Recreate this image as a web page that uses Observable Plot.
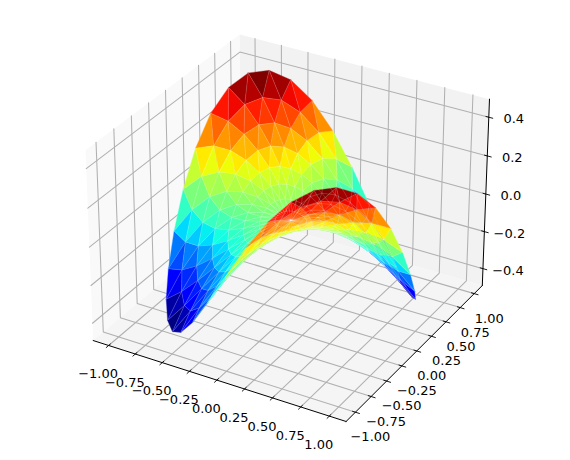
<!DOCTYPE html>
<html><head><meta charset="utf-8">
<script src="https://cdn.jsdelivr.net/npm/d3@7"></script>
<script src="https://cdn.jsdelivr.net/npm/@observablehq/plot@0.6"></script>
<style>html,body{margin:0;padding:0;background:#fff}svg{display:block}</style>
</head><body><div id="chart"></div>
<script>
const ringRadii = [0.125,0.25,0.375,0.5,0.625,0.75,0.875,1];
const anglesA = [0,10,20,30,40,50,60,70,80,90,100,110,120,130,140,150,160,170,180,190,200,210,220,230,240,250,260,270,280,290,300,310,320,330,340,350];
const anglesB = [5,15,25,35,45,55,65,75,85,95,105,115,125,135,145,155,165,175,185,195,205,215,225,235,245,255,265,275,285,295,305,315,325,335,345,355];
const centerZ = 0;
const ring1 = [-.0014,-.0039,-.006,-.0073,-.0078,-.0073,-.006,-.0039,-.0014,.0014,.0039,.006,.0073,.0078,.0073,.006,.0039,.0014,-.0014,-.0039,-.006,-.0073,-.0078,-.0073,-.006,-.0039,-.0014,.0014,.0039,.006,.0073,.0078,.0073,.006,.0039,.0014];
const ring2 = [0,-.0107,-.0201,-.0271,-.0308,-.0308,-.0271,-.0201,-.0107,0,.0107,.0201,.0271,.0308,.0308,.0271,.0201,.0107,0,-.0107,-.0201,-.0271,-.0308,-.0308,-.0271,-.0201,-.0107,0,.0107,.0201,.0271,.0308,.0308,.0271,.0201,.0107];
const ring3 = [-.0122,-.0352,-.0538,-.0661,-.0703,-.0661,-.0538,-.0352,-.0122,.0122,.0352,.0538,.0661,.0703,.0661,.0538,.0352,.0122,-.0122,-.0352,-.0538,-.0661,-.0703,-.0661,-.0538,-.0352,-.0122,.0122,.0352,.0538,.0661,.0703,.0661,.0538,.0352,.0122];
const ring4 = [0,-.0427,-.0803,-.108,-.1228,-.1228,-.108,-.0803,-.0427,0,.0427,.0803,.108,.1228,.1228,.108,.0803,.0427,0,-.0427,-.0803,-.108,-.1228,-.1228,-.108,-.0803,-.0427,0,.0427,.0803,.108,.1228,.1228,.108,.0803,.0427];
const ring5 = [-.034,-.0976,-.149,-.1826,-.1941,-.1826,-.149,-.0976,-.034,.034,.0976,.149,.1826,.1941,.1826,.149,.0976,.034,-.034,-.0976,-.149,-.1826,-.1941,-.1826,-.149,-.0976,-.034,.034,.0976,.149,.1826,.1941,.1826,.149,.0976,.034];
const ring6 = [0,-.096,-.1798,-.2412,-.2735,-.2735,-.2412,-.1798,-.096,0,.096,.1798,.2412,.2735,.2735,.2412,.1798,.096,0,-.096,-.1798,-.2412,-.2735,-.2735,-.2412,-.1798,-.096,0,.096,.1798,.2412,.2735,.2735,.2412,.1798,.096];
const ring7 = [-.0665,-.1902,-.289,-.3521,-.3735,-.3521,-.289,-.1902,-.0665,.0665,.1902,.289,.3521,.3735,.3521,.289,.1902,.0665,-.0665,-.1902,-.289,-.3521,-.3735,-.3521,-.289,-.1902,-.0665,.0665,.1902,.289,.3521,.3735,.3521,.289,.1902,.0665];
const ring8 = [0,-.1702,-.3159,-.4196,-.4727,-.4727,-.4196,-.3159,-.1702,0,.1702,.3159,.4196,.4727,.4727,.4196,.3159,.1702,0,-.1702,-.3159,-.4196,-.4727,-.4727,-.4196,-.3159,-.1702,0,.1702,.3159,.4196,.4727,.4727,.4196,.3159,.1702];
const rings = [ring1,ring2,ring3,ring4,ring5,ring6,ring7,ring8];

const xyTicks = [-1,-.75,-.5,-.25,0,.25,.5,.75,1];
const xyLabels = ["\u22121.00","\u22120.75","\u22120.50","\u22120.25","0.00","0.25","0.50","0.75","1.00"];
const zTicks = [-.4,-.2,0,.2,.4];
const zLabels = ["\u22120.4","\u22120.2","0.0","0.2","0.4"];

const jetStops = [0,.11,.125,.34,.35,.375,.64,.65,.66,.89,.91,1];
const jetColors = ["#000080","#0000ff","#0000ff","#00dbff","#00e6f7","#15ffe2","#eeff08","#f7f600","#ffec00","#ff1300","#e80000","#800000"];

const L = 1.146, ZL = 0.4924, box = [1,1,0.75], elev = 30, azim = -60, dist = 10;
const rad = Math.PI/180;
const c = box.map(b=>b/2);
const dirv = [Math.cos(elev*rad)*Math.cos(azim*rad),Math.cos(elev*rad)*Math.sin(azim*rad),Math.sin(elev*rad)];
const eye = c.map((v,i)=>v+dist*dirv[i]);
const cross=(a,b)=>[a[1]*b[2]-a[2]*b[1],a[2]*b[0]-a[0]*b[2],a[0]*b[1]-a[1]*b[0]];
const dot=(a,b)=>a[0]*b[0]+a[1]*b[1]+a[2]*b[2];
const u0=cross([0,0,1],dirv), un=Math.hypot(...u0), u=u0.map(v=>v/un), v=cross(dirv,u);
function proj(x,y,z){
  const p=[(x+L)/(2*L)*box[0]-eye[0],(y+L)/(2*L)*box[1]-eye[1],(z+ZL)/(2*ZL)*box[2]-eye[2]];
  const w=-dot(dirv,p);
  return {X:dot(u,p)/w*dist,Y:dot(v,p)/w*dist,d:w};
}

const pts=[{x:0,y:0,z:centerZ}];
rings.forEach((ring,i)=>{
  const ang = i%2===1?anglesA:anglesB;
  ring.forEach((z,k)=>pts.push({x:ringRadii[i]*Math.cos(ang[k]*rad),y:ringRadii[i]*Math.sin(ang[k]*rad),z}));
});
const del=d3.Delaunay.from(pts,p=>p.x,p=>p.y);
const tris=[];
for(let i=0;i<del.triangles.length;i+=3){
  const t=[del.triangles[i],del.triangles[i+1],del.triangles[i+2]].map(k=>pts[k]);
  const depth=d3.mean(t,p=>proj(p.x,p.y,p.z).d);
  tris.push({t,depth,val:d3.mean(t,p=>p.z)});
}
tris.sort((a,b)=>b.depth-a.depth);
const zMin=d3.min(tris,d=>d.val), zMax=d3.max(tris,d=>d.val);
const surf=[];
tris.forEach((tr,id)=>[0,1,2,0].forEach(j=>{const p=tr.t[j],q=proj(p.x,p.y,p.z);surf.push({X:q.X,Y:q.Y,id,val:tr.val});}));

const path=(arr,g)=>arr.map(a=>({...proj(...a),g}));
const xwall=path([[-L,-L,-ZL],[-L,L,-ZL],[-L,L,ZL],[-L,-L,ZL],[-L,-L,-ZL]],0);
const ywall=path([[-L,L,-ZL],[L,L,-ZL],[L,L,ZL],[-L,L,ZL],[-L,L,-ZL]],0);
const floor=path([[-L,-L,-ZL],[L,-L,-ZL],[L,L,-ZL],[-L,L,-ZL],[-L,-L,-ZL]],0);

let g=0; const grid=[], axes=[], ticks=[], labX=[], labY=[], labZ=[];
xyTicks.forEach((t,i)=>{
  grid.push(...path([[t,-L,-ZL],[t,L,-ZL],[t,L,ZL]],g++));
  grid.push(...path([[L,t,-ZL],[-L,t,-ZL],[-L,t,ZL]],g++));
  ticks.push(...path([[t,-L-.035,-ZL],[t,-L+.025,-ZL]],g++));
  ticks.push(...path([[L+.035,t,-ZL],[L-.025,t,-ZL]],g++));
  labX.push({...proj(t,-L,-ZL),s:xyLabels[i]});
  labY.push({...proj(L,t,-ZL),s:xyLabels[i]});
});
zTicks.forEach((t,i)=>{
  grid.push(...path([[-L,-L,t],[-L,L,t],[L,L,t]],g++));
  ticks.push(...path([[L+.035,L,t],[L-.025,L,t]],g++));
  labZ.push({...proj(L,L,t),s:zLabels[i]});
});
axes.push(...path([[-L,-L,-ZL],[L,-L,-ZL]],1),...path([[L,-L,-ZL],[L,L,-ZL]],2),...path([[L,L,-ZL],[L,L,ZL]],3));

const cTL=proj(-L,-L,ZL), cTR=proj(L,L,ZL), cF=proj(L,-L,-ZL), cB=proj(-L,L,ZL);
const font={fontFamily:"DejaVu Sans",fontSize:13,fill:"#000",textAnchor:"middle",lineAnchor:"middle"};

const chart=Plot.plot({
  width:570,height:460,margin:0,style:{background:"#fff"},
  x:{type:"linear",domain:[cTL.X,cTR.X],range:[85,489],axis:null},
  y:{type:"linear",domain:[cF.Y,cB.Y],range:[421,34],axis:null},
  color:{type:"linear",domain:jetStops.map(t=>zMin+t*(zMax-zMin)),range:jetColors,interpolate:"rgb"},
  marks:[
    Plot.line(xwall,{x:"X",y:"Y",fill:"#f9f9f9",stroke:"none"}),
    Plot.line(ywall,{x:"X",y:"Y",fill:"#f2f2f2",stroke:"none"}),
    Plot.line(floor,{x:"X",y:"Y",fill:"#f5f5f5",stroke:"none"}),
    Plot.line(grid,{x:"X",y:"Y",z:"g",stroke:"#b0b0b0",strokeWidth:1.05}),
    Plot.line(axes,{x:"X",y:"Y",z:"g",stroke:"#000",strokeWidth:1}),
    Plot.line(ticks,{x:"X",y:"Y",z:"g",stroke:"#000",strokeWidth:0.9}),
    Plot.line(surf,{x:"X",y:"Y",z:"id",fill:"val",stroke:"val",strokeWidth:0.3,strokeLinejoin:"round"}),
    Plot.line(surf,{x:"X",y:"Y",z:"id",stroke:"#fff",strokeOpacity:0.22,strokeWidth:0.4,strokeLinejoin:"round"}),
    Plot.text(labX,{x:"X",y:"Y",text:"s",dx:-10.5,dy:28.5,...font}),
    Plot.text(labY,{x:"X",y:"Y",text:"s",dx:15,dy:25,...font}),
    Plot.text(labZ,{x:"X",y:"Y",text:"s",dx:25,dy:2,...font})
  ]
});
document.getElementById("chart").append(chart);
</script></body></html>
